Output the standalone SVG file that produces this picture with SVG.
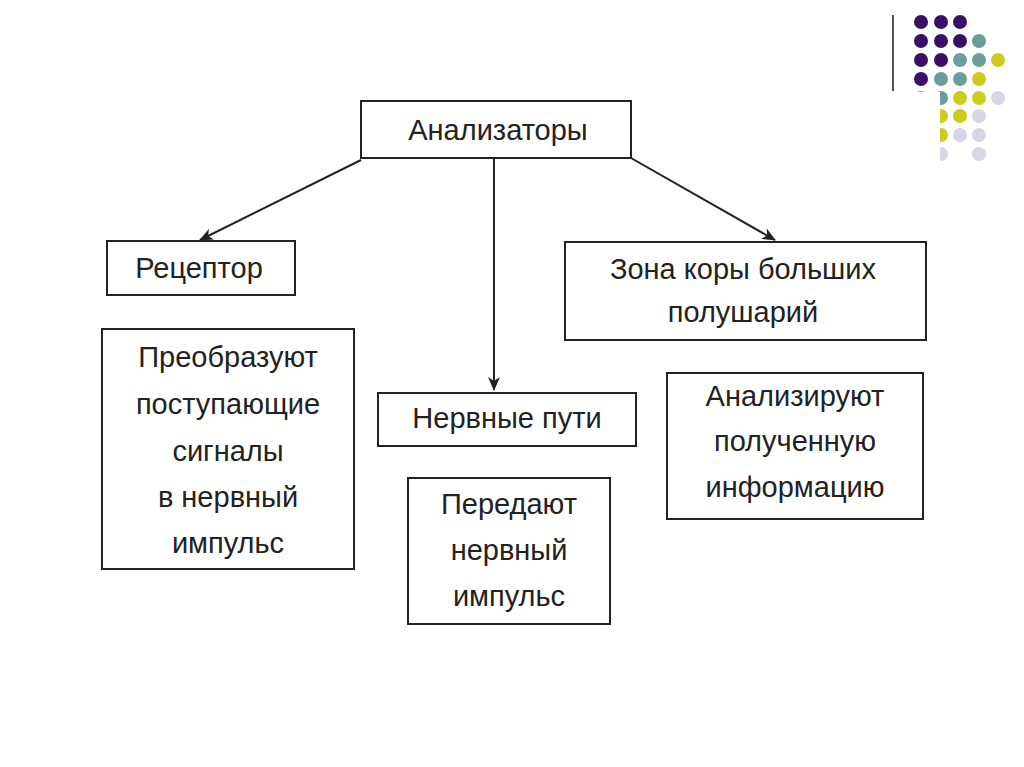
<svg xmlns="http://www.w3.org/2000/svg" width="1024" height="767" viewBox="0 0 1024 767">
<style>
.b{fill:#fff;stroke:#222;stroke-width:2}
text{font-family:"Liberation Sans",Arial,sans-serif;font-size:29px;fill:#222;text-anchor:middle}
.c{stroke:#222;stroke-width:2;fill:none;marker-end:url(#a)}
.p{fill:#3a0f66}.t{fill:#6a9e9c}.y{fill:#cfcb1c}.l{fill:#d6d6e6}
</style>
<defs><marker id="a" markerWidth="14" markerHeight="12" refX="13" refY="6" orient="auto" markerUnits="userSpaceOnUse"><path d="M0,0 L14,6 L0,12 L4,6 Z" fill="#222"/></marker></defs>
<rect width="1024" height="767" fill="#fff"/>
<g id="deco">
<line x1="893" y1="15" x2="893" y2="91" stroke="#555" stroke-width="2"/>
<circle class="p" cx="921" cy="22" r="7"/><circle class="p" cx="941" cy="22" r="7"/><circle class="p" cx="960" cy="22" r="7"/>
<circle class="p" cx="921" cy="41" r="7"/><circle class="p" cx="941" cy="41" r="7"/><circle class="p" cx="960" cy="41" r="7"/><circle class="t" cx="979" cy="41" r="7"/>
<circle class="p" cx="921" cy="60" r="7"/><circle class="p" cx="941" cy="60" r="7"/><circle class="t" cx="960" cy="60" r="7"/><circle class="t" cx="979" cy="60" r="7"/><circle class="y" cx="998" cy="60" r="7"/>
<circle class="p" cx="921" cy="79" r="7"/><circle class="t" cx="941" cy="79" r="7"/><circle class="t" cx="960" cy="79" r="7"/><circle class="y" cx="979" cy="79" r="7"/>
<circle class="t" cx="921" cy="98" r="7"/><circle class="t" cx="941" cy="98" r="7"/><circle class="y" cx="960" cy="98" r="7"/><circle class="y" cx="979" cy="98" r="7"/><circle class="l" cx="998" cy="98" r="7"/>
<circle class="y" cx="941" cy="116" r="7"/><circle class="y" cx="960" cy="116" r="7"/><circle class="l" cx="979" cy="116" r="7"/>
<circle class="y" cx="941" cy="135" r="7"/><circle class="l" cx="960" cy="135" r="7"/><circle class="l" cx="979" cy="135" r="7"/>
<circle class="l" cx="941" cy="154" r="7"/><circle class="l" cx="979" cy="154" r="7"/>
<rect x="880" y="92" width="60" height="80" fill="#fff"/>
</g>
<g id="connectors">
<line class="c" x1="361" y1="160" x2="200" y2="240"/>
<line class="c" x1="494" y1="158" x2="494" y2="390"/>
<line class="c" x1="631" y1="158" x2="775" y2="240"/>
</g>
<g id="n1"><rect class="b" x="361" y="101" width="270" height="57"/><text x="498" y="140">Анализаторы</text></g>
<g id="n2"><rect class="b" x="107" y="241" width="188" height="54"/><text x="199" y="278">Рецептор</text></g>
<g id="n3"><rect class="b" x="565" y="242" width="361" height="98"/><text x="743" y="279">Зона коры больших</text><text x="743" y="322">полушарий</text></g>
<g id="n4"><rect class="b" x="102" y="329" width="252" height="240"/><text x="228" y="367">Преобразуют</text><text x="228" y="414">поступающие</text><text x="228" y="461">сигналы</text><text x="228" y="507">в нервный</text><text x="228" y="553">импульс</text></g>
<g id="n5"><rect class="b" x="378" y="393" width="258" height="53"/><text x="507" y="428">Нервные пути</text></g>
<g id="n6"><rect class="b" x="408" y="478" width="202" height="146"/><text x="509" y="514">Передают</text><text x="509" y="560">нервный</text><text x="509" y="606">импульс</text></g>
<g id="n7"><rect class="b" x="667" y="373" width="256" height="146"/><text x="795" y="406">Анализируют</text><text x="795" y="451">полученную</text><text x="795" y="497">информацию</text></g>
</svg>
